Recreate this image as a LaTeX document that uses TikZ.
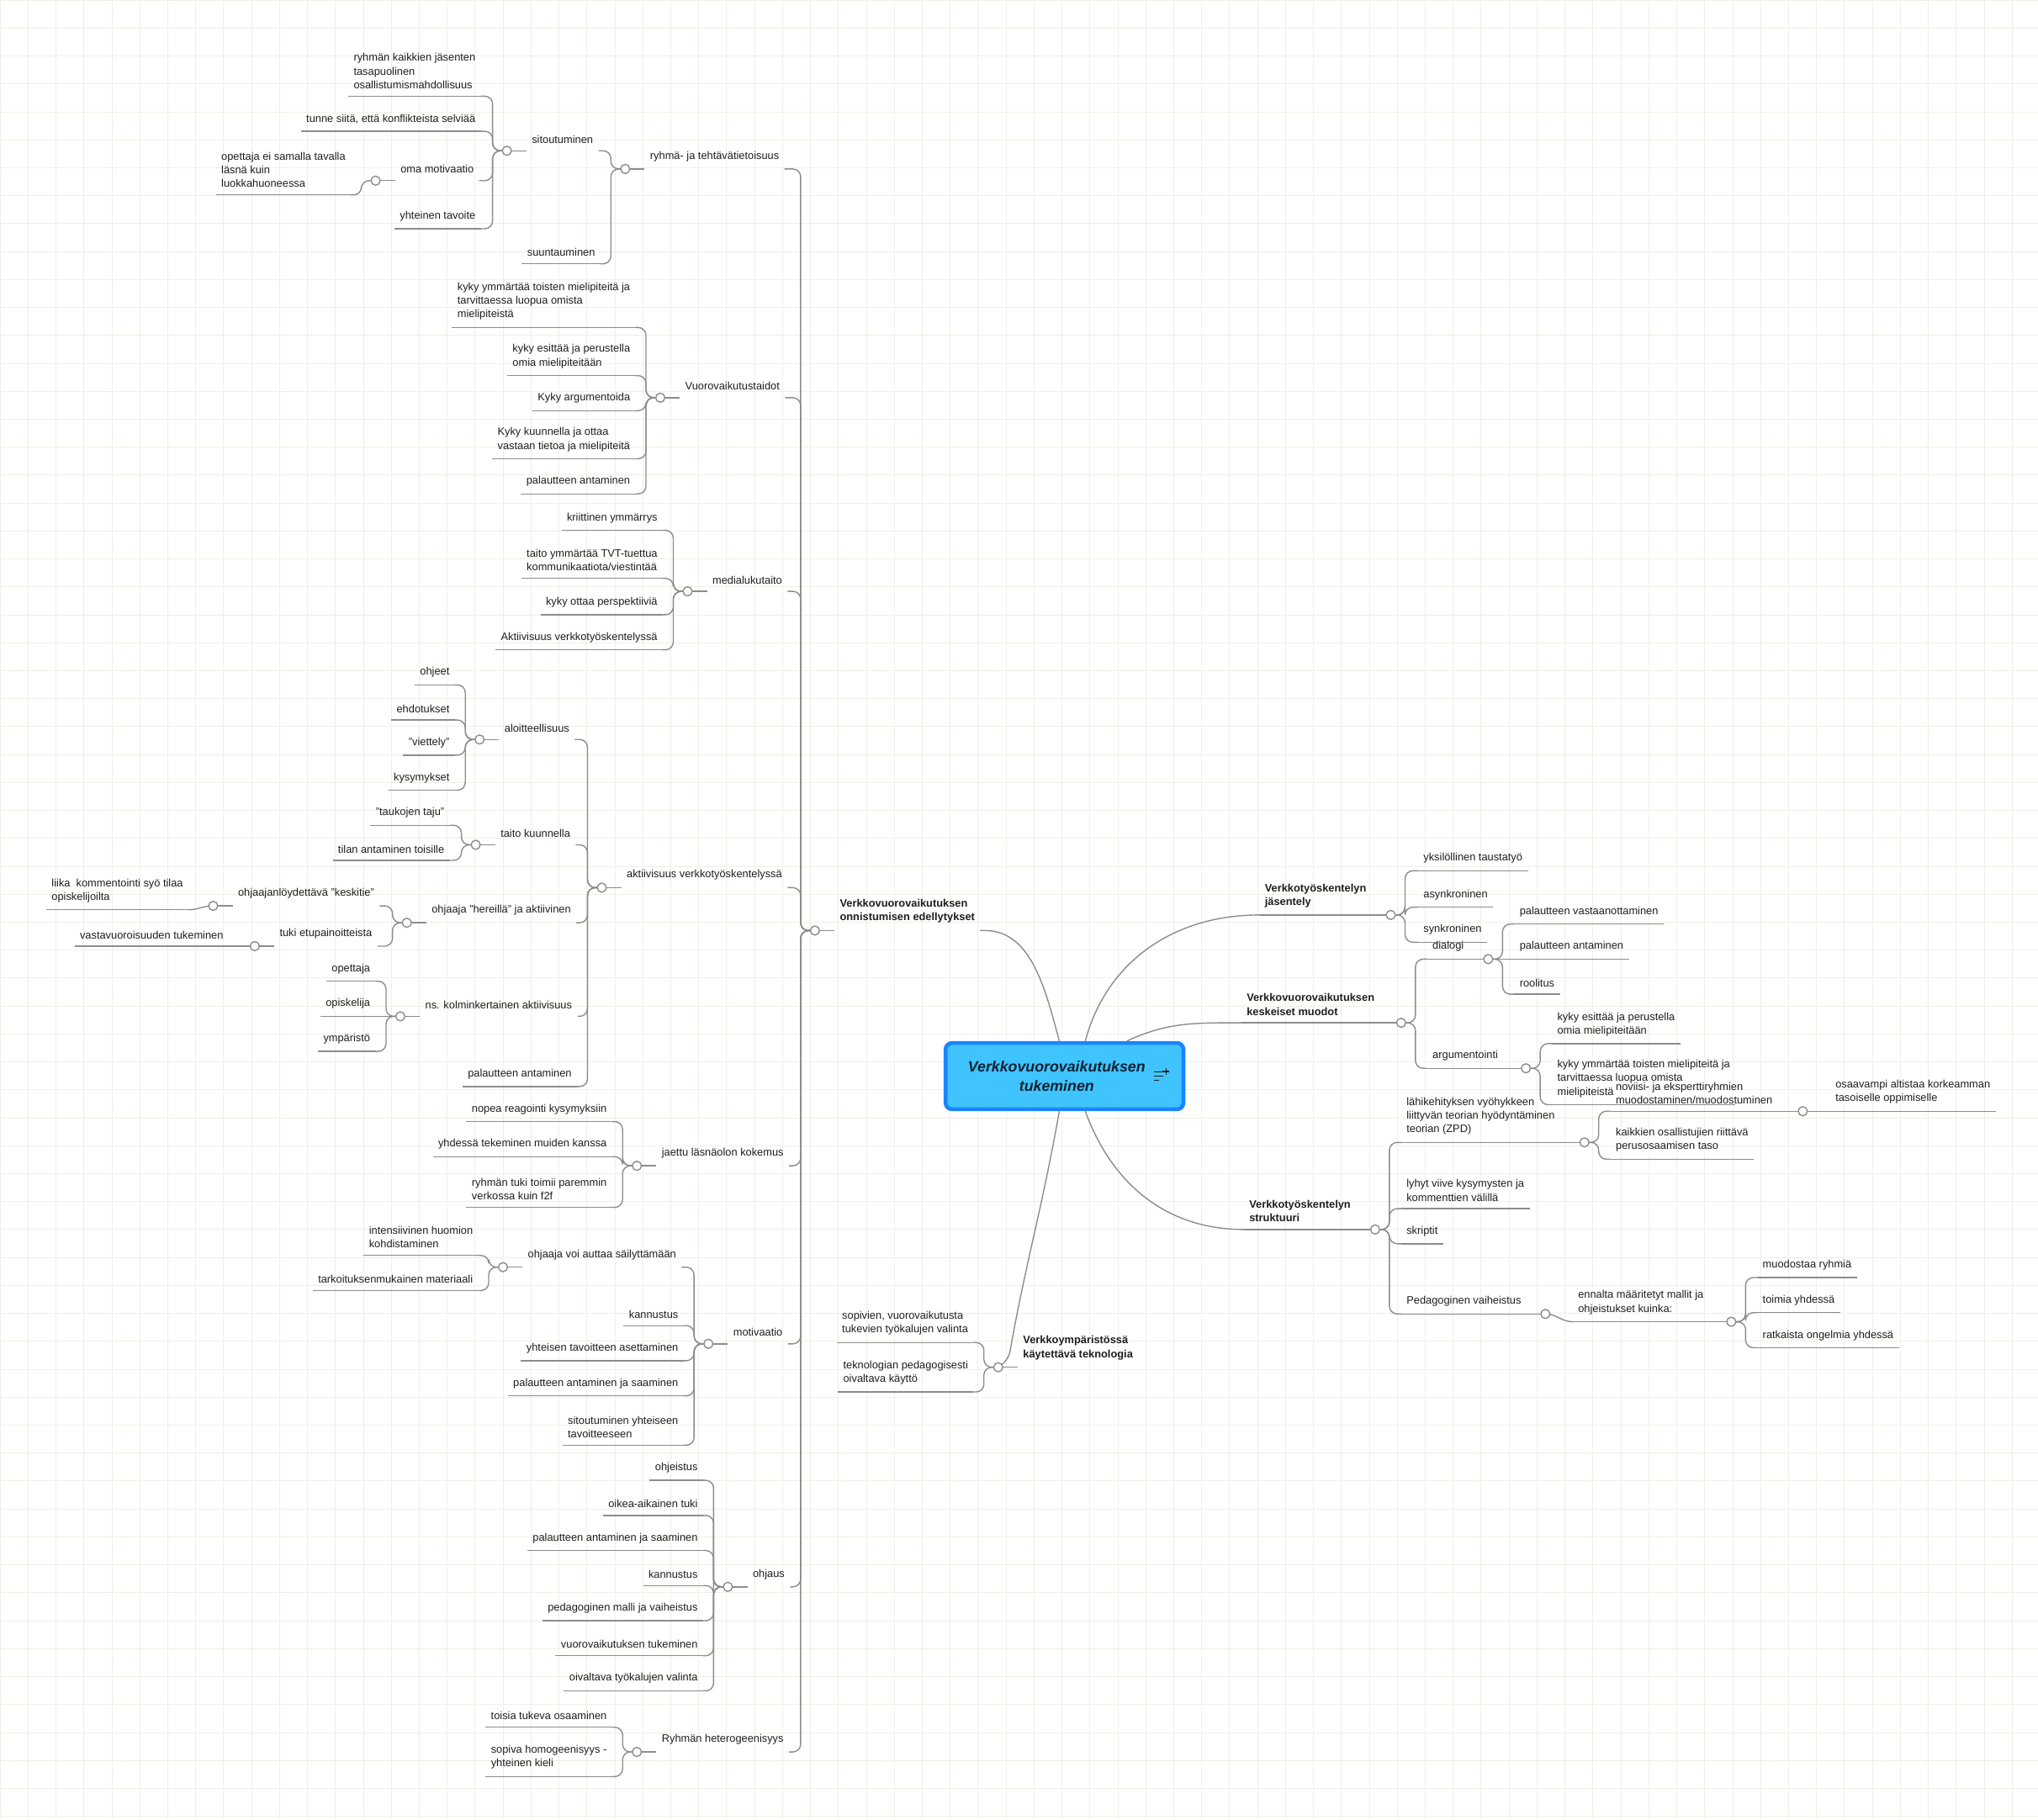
\documentclass[tikz,border=0pt]{standalone}
\usepackage{fontspec}
\setmainfont{Liberation Sans}
\usetikzlibrary{calc}
\definecolor{lnc}{HTML}{8C8C8C}
\definecolor{txt}{HTML}{1E1E1E}
\definecolor{gridc}{HTML}{EEF1E4}
\tikzset{
 lbl/.style={font=\fontsize{8.3}{10.5}\selectfont, text=txt, align=left, inner xsep=4pt, inner ysep=5.5pt},
 bold/.style={font=\fontsize{8.3}{10.5}\selectfont\bfseries},
 conn/.style={draw=lnc, line width=0.9pt, rounded corners=6pt},
 dot/.style={circle, draw=lnc, fill=white, line width=0.9pt, minimum size=7pt, inner sep=0pt},
 rootbox/.style={draw={rgb,255:red,26;green,132;blue,255}, fill={rgb,255:red,64;green,196;blue,255}, line width=3pt, rounded corners=5pt, minimum width=183pt, minimum height=51pt, align=center, font=\fontsize{11.5}{15}\selectfont\bfseries\itshape, text={rgb,255:red,16;green,32;blue,48}}
}
\newcommand\LfL[4]{\node[lbl,anchor=south east] (#1) at (#2,#3) {#4}; \draw[conn] (#1.south west) -- (#1.south east);}
\newcommand\InL[5][]{\coordinate (#2-c) at (#3,#4); \node[lbl,#1,anchor=south west] (#2) at (#3+15,#4) {#5}; \draw[conn] (#2-c) -- (#2.south west);}
\newcommand\LkL[2]{\draw[conn] (#1.south east) -| ([xshift=-11pt]#2-c) -- (#2-c);}
\newcommand\LfR[4]{\node[lbl,anchor=south west] (#1) at (#2,#3) {#4}; \draw[conn] (#1.south west) -- (#1.south east);}
\newcommand\InR[6][]{\coordinate (#2-c) at (#5,#4); \node[lbl,#1,anchor=south west] (#2) at (#3,#4) {#6}; \draw[conn] (#2.south west) -- (#2-c);}
\newcommand\LkR[2]{\draw[conn] (#2-c) -- ([xshift=11pt]#2-c) |- (#1.south west);}
\begin{document}
\begin{tikzpicture}[x=1pt,y=-1pt]
\useasboundingbox (0,0) rectangle (1568,1400);
\fill[white] (0,0) rectangle (1568,1400);
\foreach \i in {0,...,73} {\draw[gridc, line width=0.5pt] (\i*21.5,0) -- (\i*21.5,1400);}
\foreach \i in {0,...,65} {\draw[gridc, line width=0.5pt] (0,\i*21.5) -- (1568,\i*21.5);}
% root
\node[rootbox] (R) at (819,828) {Verkkovuorovaikutuksen\hspace*{12pt}\\tukeminen\hspace*{12pt}};
\draw[txt, line width=0.8pt] (888,825) -- (895,825) (888,828) -- (895,828) (888,831) -- (892,831) (897,822) -- (897,827) (894.5,824.5) -- (899.5,824.5);
% left main
\InL[bold]{ML}{627}{716}{Verkkovuorovaikutuksen\\onnistumisen edellytykset}
\draw[conn] (ML.south east) -- (752,716) to[out=0,in=105] ([xshift=-4pt]R.north);
% A
\InL{A}{481}{130}{ryhmä- ja tehtävätietoisuus} \LkL{A}{ML}
\InL{A1}{390}{116}{sitoutuminen} \LkL{A1}{A}
\LfL{a1}{370}{74}{ryhmän kaikkien jäsenten\\tasapuolinen\\osallistumismahdollisuus} \LkL{a1}{A1}
\LfL{a2}{370}{101}{tunne siitä, että konflikteista selviää} \LkL{a2}{A1}
\InL{a3}{289}{139}{oma motivaatio} \LkL{a3}{A1}
\LfL{a31}{270}{150}{opettaja ei samalla tavalla\\läsnä kuin\\luokkahuoneessa} \LkL{a31}{a3}
\LfL{a4}{370}{176}{yhteinen tavoite} \LkL{a4}{A1}
\LfL{A2}{462}{203}{suuntauminen} \LkL{A2}{A}
% B
\InL{B}{508}{306}{Vuorovaikutustaidot} \LkL{B}{ML}
\LfL{b1}{489}{252}{kyky ymmärtää toisten mielipiteitä ja\\tarvittaessa luopua omista\\mielipiteistä} \LkL{b1}{B}
\LfL{b2}{489}{289}{kyky esittää ja perustella\\omia mielipiteitään} \LkL{b2}{B}
\LfL{b3}{489}{316}{Kyky argumentoida} \LkL{b3}{B}
\LfL{b4}{489}{353}{Kyky kuunnella ja ottaa\\vastaan tietoa ja mielipiteitä} \LkL{b4}{B}
\LfL{b5}{489}{380}{palautteen antaminen} \LkL{b5}{B}
% C
\InL{C}{529}{455}{medialukutaito} \LkL{C}{ML}
\LfL{c1}{510}{408}{kriittinen ymmärrys} \LkL{c1}{C}
\LfL{c2}{510}{445}{taito ymmärtää TVT-tuettua\\kommunikaatiota/viestintää} \LkL{c2}{C}
\LfL{c3}{510}{473}{kyky ottaa perspektiiviä} \LkL{c3}{C}
\LfL{c4}{510}{500}{Aktiivisuus verkkotyöskentelyssä} \LkL{c4}{C}
% D
\InL{D}{463}{683}{aktiivisuus verkkotyöskentelyssä} \LkL{D}{ML}
\InL{D1}{369}{569}{aloitteellisuus} \LkL{D1}{D}
\LfL{d11}{350}{527}{ohjeet} \LkL{d11}{D1}
\LfL{d12}{350}{554}{ehdotukset} \LkL{d12}{D1}
\LfL{d13}{350}{581}{"viettely"} \LkL{d13}{D1}
\LfL{d14}{350}{608}{kysymykset} \LkL{d14}{D1}
\InL{D2}{366}{650}{taito kuunnella} \LkL{D2}{D}
\LfL{d21}{346}{635}{"taukojen taju"} \LkL{d21}{D2}
\LfL{d22}{346}{662}{tilan antaminen toisille} \LkL{d22}{D2}
\InL{D3}{313}{710}{ohjaaja "hereillä" ja aktiivinen} \LkL{D3}{D}
\InL{D31}{164}{697}{ohjaajanlöydettävä "keskitie"} \LkL{D31}{D3}
\LfL{d311}{145}{700}{liika\ \ kommentointi syö tilaa\\opiskelijoilta} \draw[conn] (d311.south east) to[out=0,in=180] (D31-c);
\InL{D32}{196}{728}{tuki etupainoitteista} \LkL{D32}{D3}
\LfL{d321}{176}{728}{vastavuoroisuuden tukeminen} \draw[conn] (d321.south east) -- (D32-c);
\InL{D4}{308}{782}{ns. kolminkertainen aktiivisuus} \LkL{D4}{D}
\LfL{d41}{289}{755}{opettaja} \LkL{d41}{D4}
\LfL{d42}{289}{782}{opiskelija} \draw[conn] (d42.south east) -- (D4-c);
\LfL{d43}{289}{809}{ympäristö} \LkL{d43}{D4}
\LfL{D5}{444}{836}{palautteen antaminen} \LkL{D5}{D}
% E
\InL{E}{490}{897}{jaettu läsnäolon kokemus} \LkL{E}{ML}
\LfL{e1}{471}{863}{nopea reagointi kysymyksiin} \LkL{e1}{E}
\LfL{e2}{471}{890}{yhdessä tekeminen muiden kanssa} \LkL{e2}{E}
\LfL{e3}{471}{929}{ryhmän tuki toimii paremmin\\verkossa kuin f2f} \LkL{e3}{E}
% F
\InL{F}{545}{1034}{motivaatio} \LkL{F}{ML}
\InL{F1}{387}{975}{ohjaaja voi auttaa säilyttämään} \LkL{F1}{F}
\LfL{f11}{368}{966}{intensiivinen huomion\\kohdistaminen} \LkL{f11}{F1}
\LfL{f12}{368}{993}{tarkoituksenmukainen materiaali} \LkL{f12}{F1}
\LfL{f2}{526}{1020}{kannustus} \LkL{f2}{F}
\LfL{f3}{526}{1047}{yhteisen tavoitteen asettaminen} \LkL{f3}{F}
\LfL{f4}{526}{1074}{palautteen antaminen ja saaminen} \LkL{f4}{F}
\LfL{f5}{526}{1112}{sitoutuminen yhteiseen\\tavoitteeseen} \LkL{f5}{F}
% G
\InL{G}{560}{1221}{ohjaus} \LkL{G}{ML}
\LfL{g1}{541}{1139}{ohjeistus} \LkL{g1}{G}
\LfL{g2}{541}{1166}{oikea-aikainen tuki} \LkL{g2}{G}
\LfL{g3}{541}{1193}{palautteen antaminen ja saaminen} \LkL{g3}{G}
\LfL{g4}{541}{1220}{kannustus} \LkL{g4}{G}
\LfL{g5}{541}{1247}{pedagoginen malli ja vaiheistus} \LkL{g5}{G}
\LfL{g6}{541}{1274}{vuorovaikutuksen tukeminen} \LkL{g6}{G}
\LfL{g7}{541}{1301}{oivaltava työkalujen valinta} \LkL{g7}{G}
% H
\InL{H}{490}{1348}{Ryhmän heterogeenisyys} \LkL{H}{ML}
\LfL{h1}{471}{1329}{toisia tukeva osaaminen} \LkL{h1}{H}
\LfL{h2}{471}{1367}{sopiva homogeenisyys -\\yhteinen kieli} \LkL{h2}{H}
% T
\InL[bold]{T}{768}{1052}{Verkkoympäristössä\\käytettävä teknologia}
\draw[conn] ([xshift=-4pt]R.south) to[out=-100,in=80] (776,1046) -- (T-c);
\LfL{t1}{749}{1033}{sopivien, vuorovaikutusta\\tukevien työkalujen valinta} \LkL{t1}{T}
\LfL{t2}{749}{1071}{teknologian pedagogisesti\\oivaltava käyttö} \LkL{t2}{T}
% right J
\InR[bold]{J}{969}{704}{1070}{Verkkotyöskentelyn\\jäsentely}
\draw[conn] ([xshift=16pt]R.north) to[out=75,in=180] (J.south west);
\LfR{j1}{1091}{670}{yksilöllinen taustatyö} \LkR{j1}{J}
\LfR{j2}{1091}{698}{asynkroninen} \LkR{j2}{J}
\LfR{j3}{1091}{725}{synkroninen} \LkR{j3}{J}
% K
\InR[bold]{K}{955}{787}{1078}{Verkkovuorovaikutuksen\\keskeiset muodot}
\draw[conn] ([xshift=48pt]R.north) to[out=25,in=180] (K.south west);
\InR{K1}{1098}{738}{1145}{dialogi} \LkR{K1}{K}
\LfR{k11}{1165}{711}{palautteen vastaanottaminen} \LkR{k11}{K1}
\LfR{k12}{1165}{738}{palautteen antaminen} \draw[conn] (K1-c) -- (k12.south west);
\LfR{k13}{1165}{765}{roolitus} \LkR{k13}{K1}
\InR{K2}{1098}{822}{1174}{argumentointi} \LkR{K2}{K}
\LfR{k21}{1194}{803}{kyky esittää ja perustella\\omia mielipiteitään} \LkR{k21}{K2}
\LfR{k22}{1194}{850}{kyky ymmärtää toisten mielipiteitä ja\\tarvittaessa luopua omista\\mielipiteistä} \LkR{k22}{K2}
% S
\InR[bold]{S}{957}{946}{1058}{Verkkotyöskentelyn\\struktuuri}
\draw[conn] ([xshift=16pt]R.south) to[out=-70,in=180] (S.south west);
\InR{S1}{1078}{879}{1219}{lähikehityksen vyöhykkeen\\liittyvän teorian hyödyntäminen\\teorian (ZPD)} \LkR{S1}{S}
\InR{S11}{1239}{855}{1387}{noviisi- ja eksperttiryhmien\\muodostaminen/muodostuminen} \LkR{S11}{S1}
\LfR{s111}{1408}{855}{osaavampi altistaa korkeamman\\tasoiselle oppimiselle} \draw[conn] (S11-c) -- (s111.south west);
\LfR{s12}{1239}{892}{kaikkien osallistujien riittävä\\perusosaamisen taso} \LkR{s12}{S1}
\LfR{s2}{1078}{930}{lyhyt viive kysymysten ja\\kommenttien välillä} \LkR{s2}{S}
\LfR{s3}{1078}{957}{skriptit} \LkR{s3}{S}
\InR{S4}{1078}{1011}{1189}{Pedagoginen vaiheistus} \LkR{S4}{S}
\InR{S41}{1210}{1017}{1332}{ennalta määritetyt mallit ja\\ohjeistukset kuinka:} \draw[conn] (S4-c) to[out=0,in=180] (S41.south west);
\LfR{s411}{1352}{983}{muodostaa ryhmiä} \LkR{s411}{S41}
\LfR{s412}{1352}{1010}{toimia yhdessä} \LkR{s412}{S41}
\LfR{s413}{1352}{1037}{ratkaista ongelmia yhdessä} \LkR{s413}{S41}
% junction dots
\foreach \n in {ML,A,A1,a3,B,C,D,D1,D2,D3,D31,D32,D4,E,F,F1,G,H,T,J,K,K1,K2,S,S1,S11,S4,S41}
  \node[dot] (\n-dot) at (\n-c) {};
\end{tikzpicture}
\end{document}
